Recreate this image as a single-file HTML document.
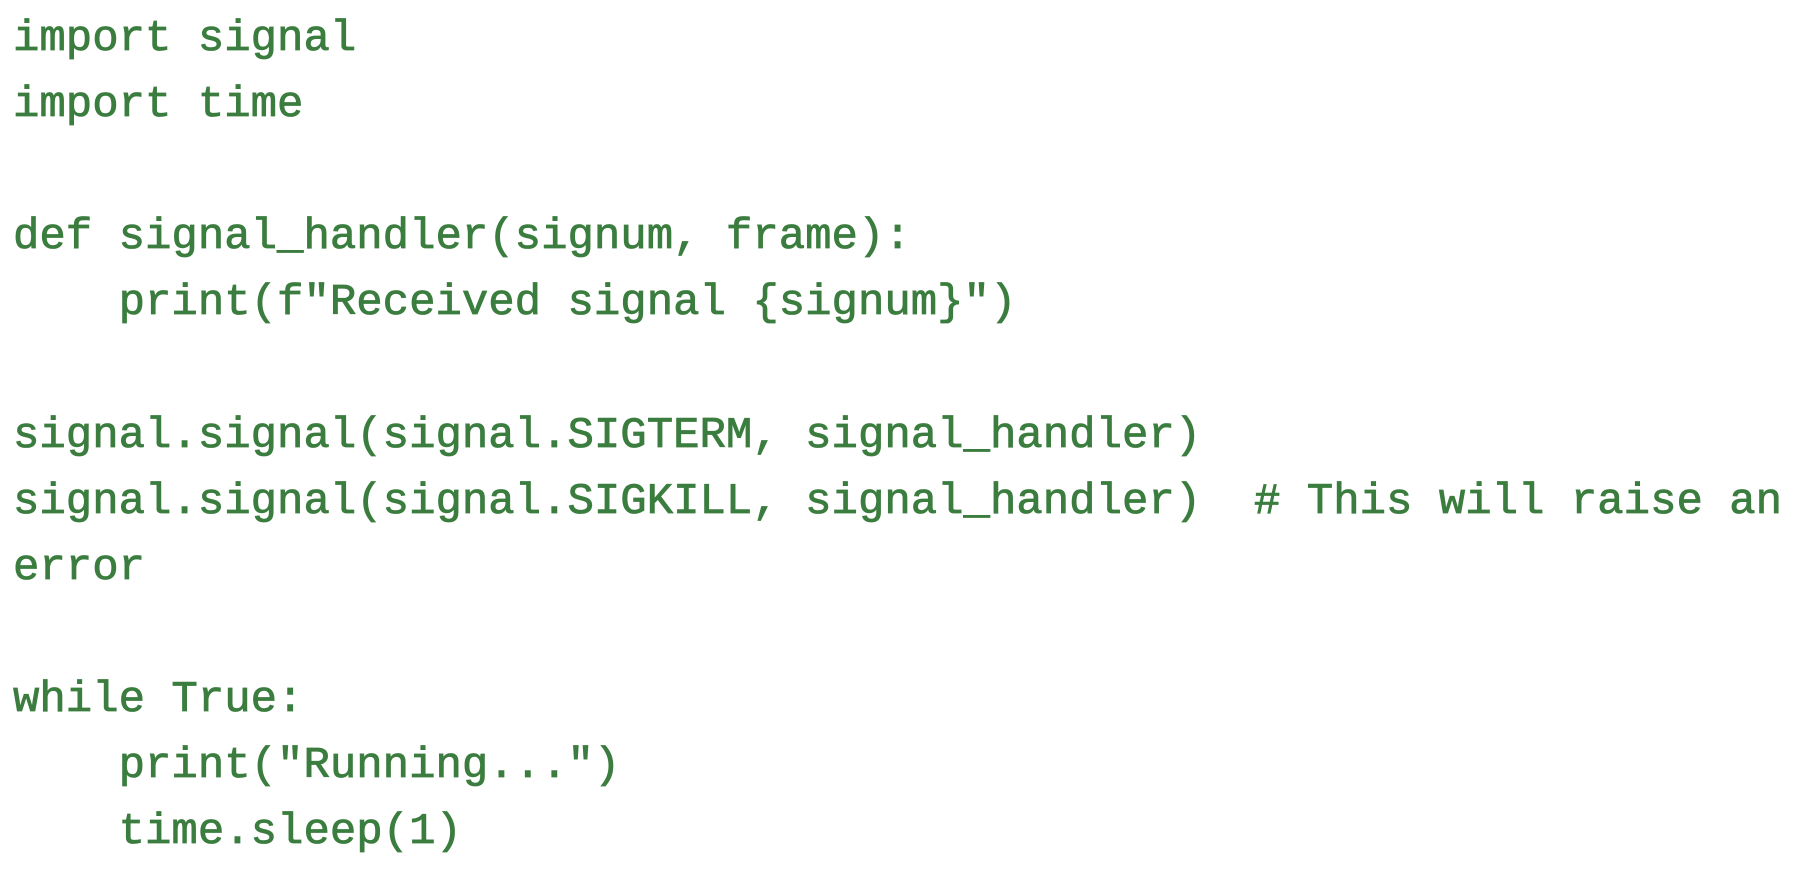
<!DOCTYPE html>
<html><head><meta charset="utf-8"><style>
html,body{margin:0;padding:0;background:#fff;width:1810px;height:884px;overflow:hidden}
pre{position:absolute;left:13px;top:6px;margin:0;font-family:"Liberation Mono",monospace;font-size:44px;line-height:66.1px;color:#3b7d3f;white-space:pre;-webkit-text-stroke:0.8px #3b7d3f}
</style></head><body>
<pre>import signal
import time

def signal_handler(signum, frame):
    print(f"Received signal {signum}")

signal.signal(signal.SIGTERM, signal_handler)
signal.signal(signal.SIGKILL, signal_handler)  # This will raise an
error

while True:
    print("Running...")
    time.sleep(1)</pre>
</body></html>
